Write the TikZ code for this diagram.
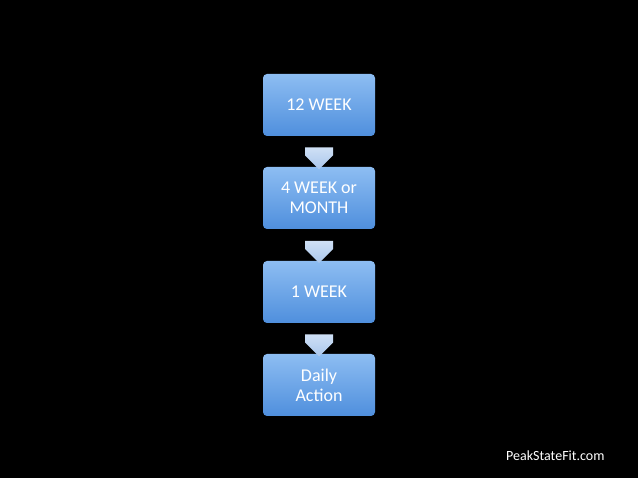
\documentclass[tikz,border=0pt]{standalone}
\usepackage{fontspec}
\setmainfont{Carlito}
\usetikzlibrary{shapes.arrows}
\definecolor{btop}{HTML}{8DBDF2}
\definecolor{bbot}{HTML}{4F8FDD}
\definecolor{atop}{HTML}{CFE0F5}
\definecolor{abot}{HTML}{A9C6EC}
\begin{document}
\begin{tikzpicture}[x=1pt,y=-1pt,
  box/.style={rounded corners=4pt,top color=btop,bottom color=bbot,draw=none,minimum width=112pt,minimum height=62pt,text=white,font=\fontsize{18}{20}\selectfont,align=center,inner sep=0pt},
  darrow/.style={single arrow,shape border rotate=270,top color=atop,bottom color=abot,draw=none,minimum width=28pt,single arrow head extend=0pt,single arrow tip angle=90,minimum height=22pt,inner sep=0pt}]
\fill[black] (0,0) rectangle (638,478);
\node[box] (a) at (319,105) {12 WEEK};
\node[box] (b) at (319,198) {4 WEEK or\\MONTH};
\node[box] (c) at (319,292) {1 WEEK};
\node[box] (d) at (319,385) {Daily\\Action};
\node[darrow,minimum width=28pt] (ab) at (319,151.5) {};
\node[darrow] (bc) at (319,245) {};
\node[darrow] (cd) at (319,338.5) {};
\node[text=white,font=\fontsize{14}{16}\selectfont,anchor=east] (w) at (608,456) {PeakStateFit.com};
\end{tikzpicture}
\end{document}
